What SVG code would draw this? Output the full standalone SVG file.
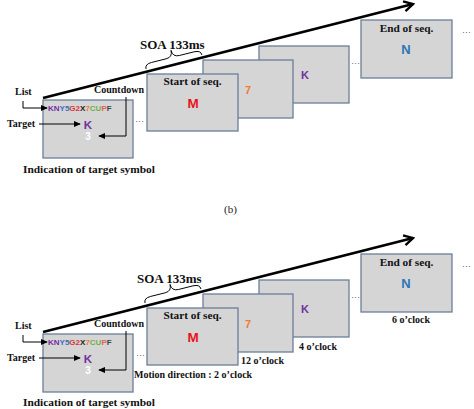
<svg xmlns="http://www.w3.org/2000/svg" width="474" height="409" viewBox="0 0 474 409">
<style>
.bg{fill:#ffffff}
.box{fill:#d5d5d6;stroke:#6b7f99;stroke-width:1.3}
.lbl{font-family:"Liberation Serif",serif;font-weight:bold;fill:#111}
.ttl{font-family:"Liberation Serif",serif;font-weight:bold;font-size:11.3px;fill:#111;text-anchor:middle}
.soa{font-family:"Liberation Serif",serif;font-weight:bold;font-size:13px;fill:#111}
.sm{font-family:"Liberation Serif",serif;font-weight:bold;font-size:10px;fill:#111}
.sym{font-family:"Liberation Sans",Arial,sans-serif;font-weight:bold;text-anchor:middle}
.list{font-family:"Liberation Sans",Arial,sans-serif;font-weight:bold;font-size:8px}
.dots{font-family:"Liberation Serif",serif;font-size:9px;fill:#333}
.main{fill:none;stroke:#000;stroke-width:2.8;marker-end:url(#open)}
.thin{fill:none;stroke:#000;stroke-width:1;marker-end:url(#tri)}
.brace{fill:none;stroke:#000;stroke-width:0.9}
</style>
<defs>
<marker id="open" markerUnits="userSpaceOnUse" viewBox="0 0 12 12" refX="10" refY="6" markerWidth="12" markerHeight="12" orient="auto">
<path d="M1,1 L10,6 L1,11" fill="none" stroke="#000" stroke-width="2.4"/>
</marker>
<marker id="tri" markerUnits="userSpaceOnUse" viewBox="0 0 8 8" refX="7" refY="4" markerWidth="7" markerHeight="7" orient="auto">
<path d="M0,0.5 L8,4 L0,7.5 Z" fill="#000"/>
</marker>
</defs>
<rect class="bg" x="0" y="0" width="474" height="409"/>

<!-- ===== Panel (a) ===== -->
<g id="a-first">
<rect class="box" x="43" y="100" width="90" height="58"/>
<text class="list" x="48" y="111"><tspan fill="#7030a0">KN</tspan><tspan fill="#3a6fc4">Y5</tspan><tspan fill="#d9343a">G2</tspan><tspan fill="#222">X</tspan><tspan fill="#ed7d31">7</tspan><tspan fill="#6fb04a">CU</tspan><tspan fill="#e0605a">P</tspan><tspan fill="#444">F</tspan></text>
<text class="sym" x="88" y="129" font-size="11.5" fill="#7030a0">K</text>
<text class="sym" x="88" y="140" font-size="10" fill="#ffffff">3</text>
</g>
<g id="a-box3">
<rect class="box" x="259" y="46" width="90" height="57"/>
<text class="sym" x="305" y="79" font-size="11" fill="#7030a0">K</text>
</g>
<g id="a-box2">
<rect class="box" x="203" y="60" width="90" height="58"/>
<text class="sym" x="248" y="94" font-size="11" fill="#ed7d31">7</text>
</g>
<g id="a-start">
<rect class="box" x="147" y="74" width="91" height="57"/>
<text class="ttl" x="192.5" y="85">Start of seq.</text>
<text class="sym" x="193" y="108" font-size="13.5" fill="#e8141c">M</text>
</g>
<g id="a-end">
<rect class="box" x="361" y="20" width="91" height="58"/>
<text class="ttl" x="406.5" y="32">End of seq.</text>
<text class="sym" x="406" y="54" font-size="13" fill="#2e75b6">N</text>
</g>
<g id="a-labels">
<text class="sm" x="15" y="95">List</text>
<text class="sm" x="7" y="127">Target</text>
<text class="sm" x="94" y="93">Countdown</text>
<text class="lbl" x="23" y="173" font-size="11.4">Indication of target symbol</text>
<text class="soa" x="140" y="49">SOA 133ms</text>
<text class="dots" x="135" y="122">…</text>
<text class="dots" x="351" y="64">…</text>
<text class="dots" x="462" y="33">…</text>
</g>
<g id="a-connectors">
<path class="main" d="M43,98 L413,4"/>
<path class="thin" d="M23,101 L23,108 L47,108"/>
<path class="thin" d="M39,124 L80,124"/>
<path class="thin" d="M126,97 L126,136 L99,136"/>
<path class="brace" transform="translate(146,69) rotate(-14.04)" d="M0,0 Q0,-5 7,-5 L22,-5 Q28.8,-5 28.8,-12 Q28.8,-5 35.6,-5 L50.7,-5 Q57.7,-5 57.7,0"/>
</g>

<text x="224" y="213" font-family="Liberation Serif,serif" font-size="11" fill="#222">(b)</text>

<!-- ===== Panel (b) ===== -->
<g id="b-first">
<rect class="box" x="43" y="334" width="90" height="58"/>
<text class="list" x="48" y="345"><tspan fill="#7030a0">KN</tspan><tspan fill="#3a6fc4">Y5</tspan><tspan fill="#d9343a">G2</tspan><tspan fill="#222">X</tspan><tspan fill="#ed7d31">7</tspan><tspan fill="#6fb04a">CU</tspan><tspan fill="#e0605a">P</tspan><tspan fill="#444">F</tspan></text>
<text class="sym" x="88" y="363" font-size="11.5" fill="#7030a0">K</text>
<text class="sym" x="88" y="374" font-size="10" fill="#ffffff">3</text>
</g>
<g id="b-box3">
<rect class="box" x="259" y="280" width="90" height="57"/>
<text class="sym" x="305" y="313" font-size="11" fill="#7030a0">K</text>
</g>
<g id="b-box2">
<rect class="box" x="203" y="294" width="90" height="58"/>
<text class="sym" x="248" y="328" font-size="11" fill="#ed7d31">7</text>
</g>
<g id="b-start">
<rect class="box" x="147" y="308" width="91" height="57"/>
<text class="ttl" x="192.5" y="319">Start of seq.</text>
<text class="sym" x="193" y="342" font-size="13.5" fill="#e8141c">M</text>
</g>
<g id="b-end">
<rect class="box" x="361" y="254" width="91" height="58"/>
<text class="ttl" x="406.5" y="266">End of seq.</text>
<text class="sym" x="406" y="288" font-size="13" fill="#2e75b6">N</text>
</g>
<g id="b-labels">
<text class="sm" x="15" y="329">List</text>
<text class="sm" x="7" y="361">Target</text>
<text class="sm" x="94" y="327">Countdown</text>
<text class="lbl" x="23" y="406" font-size="11.4">Indication of target symbol</text>
<text class="soa" x="137" y="283">SOA 133ms</text>
<text class="sm" x="134" y="378">Motion direction : 2 o’clock</text>
<text class="sm" x="241" y="364">12 o’clock</text>
<text class="sm" x="299" y="350">4 o’clock</text>
<text class="sm" x="392" y="323">6 o’clock</text>
<text class="dots" x="136" y="356">…</text>
<text class="dots" x="351" y="298">…</text>
<text class="dots" x="462" y="267">…</text>
</g>
<g id="b-connectors">
<path class="main" d="M43,332 L413,238"/>
<path class="thin" d="M23,335 L23,342 L47,342"/>
<path class="thin" d="M39,358 L80,358"/>
<path class="thin" d="M126,331 L126,370 L99,370"/>
<path class="brace" transform="translate(145,303) rotate(-14.04)" d="M0,0 Q0,-5 7,-5 L22,-5 Q28.8,-5 28.8,-12 Q28.8,-5 35.6,-5 L50.7,-5 Q57.7,-5 57.7,0"/>
</g>
</svg>
